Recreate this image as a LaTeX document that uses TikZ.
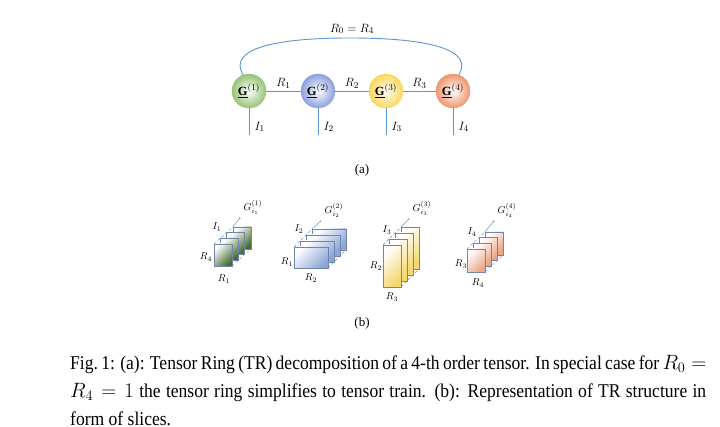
\documentclass[tikz,border=0pt]{standalone}
\usepackage{fontspec}
\setmainfont{Liberation Serif}
\newfontfamily\capfont[FakeStretch=0.9]{Liberation Serif}
\usepackage{amsmath}
\usetikzlibrary{arrows.meta}
\definecolor{cg}{RGB}{150,195,120}
\definecolor{cb}{RGB}{140,160,220}
\definecolor{cy}{RGB}{250,215,90}
\definecolor{co}{RGB}{240,150,110}
\definecolor{sg}{RGB}{70,110,50}
\definecolor{sb}{RGB}{140,165,215}
\definecolor{sy}{RGB}{245,215,110}
\definecolor{so}{RGB}{235,165,135}
\definecolor{ln}{RGB}{90,150,210}
\begin{document}
\newcommand\myslab[9]{% fx fy w h dx dy n color name
  \foreach \k in {#7,...,0}{
    \path[draw=sb!80!black,line width=0.5pt,top color=white,bottom color=#8,shading angle=45]
      ({#1+\k*#5},{#2+\k*#6}) rectangle ++(#3,#4);
  }
  \draw[densely dashed,ln,line width=0.4pt] (#1,#2) -- ({#1+#7*#5},{#2+#7*#6});
  \draw[densely dashed,ln,line width=0.4pt] ({#1+#3},{#2+#4}) -- ({#1+#3+#7*#5},{#2+#4+#7*#6});
  \coordinate (#9) at ({#1+#7*#5},{#2+#7*#6});
}
\begin{tikzpicture}[x=1pt,y=-1pt,
  ball/.style={circle,minimum size=34pt,inner sep=0pt,draw=#1,line width=0.4pt,inner color=white,outer color=#1,font=\fontsize{12.5}{14}\selectfont},
  edge/.style={draw=ln,line width=0.9pt},
  lab/.style={font=\fontsize{13}{15}\selectfont},
  sl/.style={font=\fontsize{10}{12}\selectfont}]
\useasboundingbox (0,0) rectangle (720,427);
\node[ball=cg] (g1) at (249,91) {$\underline{\mathbf G}^{(1)}$};
\node[ball=cb] (g2) at (318,91) {$\underline{\mathbf G}^{(2)}$};
\node[ball=cy] (g3) at (386,91) {$\underline{\mathbf G}^{(3)}$};
\node[ball=co] (g4) at (453,91) {$\underline{\mathbf G}^{(4)}$};
\draw[edge] (g1) -- node[above,lab,yshift=-1pt] {$R_1$} (g2);
\draw[edge] (g2) -- node[above,lab,yshift=-1pt] {$R_2$} (g3);
\draw[edge] (g3) -- node[above,lab,yshift=-1pt] {$R_3$} (g4);
\draw[edge] (g1.110) .. controls (228,50) and (270,38) .. (350,38) .. controls (430,38) and (474,50) .. (g4.70);
\node[lab] (r0) at (352,29) {$R_0=R_4$};
\foreach \i/\n in {1/g1,2/g2,3/g3,4/g4}{
  \coordinate (e\i) at ([yshift=-44pt]\n.center);
  \draw[edge] (\n.south) -- (e\i);
  \node[lab,anchor=west] (il\i) at ([xshift=2pt,yshift=8pt]e\i) {$I_\i$};
}
\node[lab] (la) at (362,170) {(a)};
\node[lab] (lb) at (362,323) {(b)};
% slices
\myslab{214}{244}{18}{22}{6.3}{-5.7}{3}{sg}{c1}
\myslab{294}{247}{34}{21}{6}{-6}{3}{sb}{c2}
\myslab{383}{245}{18}{42}{6}{-6}{3}{sy}{c3}
\myslab{467}{249}{18}{23}{6}{-5.7}{3}{so}{c4}
\node[sl] (t1) at (253,207) {$G^{(1)}_{i_1}$};
\node[sl] (t2) at (334,210) {$G^{(2)}_{i_2}$};
\node[sl] (t3) at (422,208) {$G^{(3)}_{i_3}$};
\node[sl] (t4) at (507,210) {$G^{(4)}_{i_4}$};
\foreach \i in {1,2,3,4}{\draw[ln,line width=0.5pt,-{Circle[length=1.5pt]}] (c\i) -- (t\i.south west);}
\node[sl] (a1) at (217,227) {$I_1$};
\node[sl] (b1) at (206,257) {$R_4$};
\node[sl] (d1) at (224,279) {$R_1$};
\node[sl] (a2) at (299,229) {$I_2$};
\node[sl] (b2) at (287,262) {$R_1$};
\node[sl] (d2) at (311,278) {$R_2$};
\node[sl] (a3) at (387,230) {$I_3$};
\node[sl] (b3) at (376,266) {$R_2$};
\node[sl] (d3) at (392,297) {$R_3$};
\node[sl] (a4) at (472,232) {$I_4$};
\node[sl] (b4) at (461,264) {$R_3$};
\node[sl] (d4) at (478,283) {$R_4$};
\node[anchor=north west,inner sep=0pt,text width=636pt,align=justify] (cap) at (70,355)
 {\capfont\fontsize{19.5}{28}\selectfont Fig.~1: (a): Tensor Ring (TR) decomposition of a 4-th order tensor. In special case for $R_0=$ $R_4=1$ the tensor ring simplifies to tensor train. (b): Representation of TR structure in form of slices.\par};
\end{tikzpicture}
\end{document}
